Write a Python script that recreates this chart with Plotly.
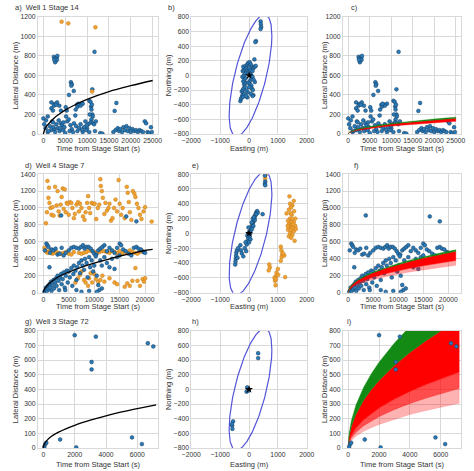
import numpy as np
import plotly.graph_objects as go
from plotly.subplots import make_subplots

# ---------------- data ----------------
# Panel a / c : Well 1 Stage 14  (time s, lateral distance m)
a_blue = [(2400,790),(2600,770),(2800,750),(3000,780),(3200,800),(2700,735),(3100,760),(2500,760),
          (11700,842),(6300,530),(6500,510),(6400,495),(6950,441),(5850,400),(11200,458),
          (16700,318),(16300,237),
          (1830,324),(1830,264),(2190,240),(2560,307),(3140,324),(3650,290),(4020,240),(2400,290),(2900,300),
          (5120,274),(5340,240),
          (7700,300),(8300,300),(9000,310),(7800,280),(8500,290),(8000,310),(7400,250),
          (10500,340),(10800,330),(10900,280),(11000,250),(11200,200),(11300,180),(11000,150),(10800,120),
          (11400,110),(11600,100),(12000,130),(10300,100),(10000,60),(9800,40),(10500,20),(11800,30),(10600,200),(11100,300),
          (0,160),(200,100),(500,60),(1000,20),(1500,80),(1800,40),(2000,130),(2200,120),(2500,50),(2700,20),
          (3000,100),(3300,60),(3500,140),(3700,30),(4000,110),(4300,90),(4500,40),(4800,70),(5000,10),
          (5200,180),(5500,130),(5800,150),(6200,90),(6500,50),(6800,20),(7000,110),(7300,190),(7500,80),
          (7800,30),(8200,60),(8500,100),(9000,20),(9300,70),(9600,130),(13000,10),(13500,5),
          (1200,30),(2300,70),(3800,60),(4600,120),(6000,30),(8800,45),(9900,90),(1000,180),(600,140),
          (16000,20),(16500,40),(17000,60),(17300,30),(17600,50),(18000,20),(18300,70),(18700,40),(19000,80),
          (19300,30),(19700,60),(20000,20),(20400,50),(20800,30),(21200,40),(21600,20),(22000,40),(22400,30),
          (22800,20),(23200,130),(23500,110),(23800,20),(24200,10),(24600,70),(24800,20)]
a_orange = [(4170,1150),(5700,1133),(11900,1093),(11150,435)]
a_curve_t = [0, 300, 700, 1500, 2500, 4000, 5000, 7500, 10000, 15000, 20000, 25000]
a_curve_r = [0, 45, 80, 118, 165, 215, 245, 305, 355, 435, 495, 548]

c_band_t = [0, 100, 400, 1000, 2000, 3500, 5000, 7500, 10000, 12500, 15000, 17500, 20000, 22500, 25000]
c_green_top = [0, 11, 22, 34, 49, 64, 77, 94, 109, 122, 133, 144, 154, 163, 172]
c_red_top = [0, 10, 20, 32, 46, 60, 72, 88, 102, 114, 125, 135, 144, 153, 161]
c_red_low = [0, 8, 16, 26, 37, 49, 58, 71, 82, 92, 100, 108, 116, 123, 130]

# Panel b : map view (easting, northing)
b_blue = [(400,737),(410,700),(420,660),(400,634),(240,469),(217,455),(185,219),
          (-300,-350),(-280,-320),(-250,-300),(-230,-270),(-200,-290),(-180,-250),(-250,-220),(-220,-200),
          (-190,-180),(-150,-150),(-170,-120),(-130,-100),(-200,-80),(-160,-50),(-120,-40),(-230,-20),
          (-180,0),(-140,20),(-100,40),(-220,60),(-180,80),(-150,100),(-200,120),(-120,130),(-60,150),
          (-30,170),(20,180),(60,150),(100,120),(150,100),(200,120),(230,130),(-40,60),(-10,40),(40,20),
          (80,0),(120,-20),(60,-50),(20,-80),(-20,-100),(30,-120),(80,-140),(100,-180),(130,-200),(150,-270),
          (120,-280),(60,-250),(-50,-230),(-90,-200),(0,-160),(-60,-300),(-100,-280),(200,-90),(160,-60),
          (-80,100),(0,100),(50,70),(120,60)]

# Panel d / f : Well 4 Stage 7
d_orange = [(500,820),(700,950),(800,1320),(1000,1120),(1100,1240),(1200,1060),(1400,1000),(1600,920),
            (1800,1010),(2000,910),(2300,1250),(2600,1030),(2800,1200),(3000,960),(3200,910),(3400,1040),
            (3600,1130),(3800,1230),(4000,990),(4200,1220),(4400,950),(4600,1060),(4800,1050),(5000,920),
            (5200,1070),(5500,1060),(5700,1000),(6000,880),(6200,930),(6500,1040),(6800,1070),(7000,960),
            (7200,1050),(7500,1000),(7800,900),(8100,860),(8300,950),(8600,1060),(8800,1140),(9000,1000),
            (9200,940),(9500,1060),(9800,1050),(10100,1050),(10400,870),(10700,1000),(11000,1040),(11200,1340),
            (11300,1260),(11500,1200),(11700,1120),(12000,930),(12200,1060),(12500,970),(12800,1000),
            (13000,1050),(13300,850),(13600,880),(13900,1000),(14200,1100),(14500,960),(14800,1330),
            (15000,1050),(15300,920),(15600,1000),(16000,880),(16400,1250),(16600,1180),(16800,1070),
            (17000,950),(17300,860),(17600,1200),(17900,1170),(18100,1130),(18400,1050),(18700,1000),
            (19000,920),(19300,870),(19700,960),(20000,1010),(21300,840),
            (200,530),(400,500),(600,480),(900,470),(1200,490),(1500,480),(1800,460),(2100,470),(2500,480),
            (3000,470),(3500,460),(4000,470),(4500,480),(5000,460),(5500,450),(6000,480),(7000,470),(7500,460),
            (8000,470),(8500,480),(9000,500),(9500,490),(10000,480),(10500,470),(11000,480),(11500,490),
            (12000,490),(12500,480),(13000,470),(13500,490),(14000,480),(14500,470),(15000,490),(15500,460),
            (16000,480),(16500,470),(17000,500),(17500,480),(18000,470),(18500,460),(19000,480),(19500,490),
            (6300,120),(6800,170),(7200,210),(7500,250),(8000,150),(8300,120),(8800,80),(9000,170),(9300,230),
            (9600,120),(10000,220),(10300,160),(10800,130),(11200,150),(11600,200),(12000,130),(13000,170),
            (14000,120),(14500,100),(16000,70),(16500,110),(17000,80),(17500,140),(18100,290),(18500,140),
            (19000,80),(19500,160),(19800,130),(20000,170)]
d_blue = [(3500,912),(16300,900),(18300,842),
          (300,500),(600,580),(800,560),(1000,540),(1300,470),(1600,510),(2000,500),(2400,520),(2800,450),
          (3200,460),(3600,530),(4000,440),(4400,470),(5000,500),(5500,530),(6000,540),(6500,530),(7000,520),
          (7400,540),(7800,560),(8100,520),(8500,540),(8900,540),(9300,520),(9700,490),(10000,460),
          (10400,450),(10800,500),(11200,520),(11600,540),(12000,560),(12500,490),(13000,530),(13500,500),
          (14000,470),(14500,530),(15000,580),(15300,560),(15700,510),(16200,490),(16800,460),(17300,440),
          (17800,530),(18300,540),(18700,520),(19200,510),(19700,480),(20000,470),
          (200,10),(400,30),(500,60),(700,20),(900,80),(1000,40),(1200,100),(1300,60),(1500,130),(1600,20),
          (1800,90),(2000,150),(2100,50),(2300,120),(2500,170),(2600,80),(2800,200),(3000,140),(3100,30),
          (3300,180),(3500,220),(3600,100),(3800,160),(4000,240),(4200,60),(4400,200),(4600,260),(4800,120),
          (5000,250),(5200,180),(5500,290),(5700,80),(5900,220),(6000,320),(6300,260),(6500,150),(6700,300),
          (7000,350),(7200,230),(7500,380),(7700,320),(8000,270),(8200,400),(8500,350),(8700,180),(9000,420),
          (9200,300),(9500,380),(9800,250),(10000,320),(10300,430),(10500,200),(10800,90),(11000,30),
          (11200,380),(11500,320),(12000,420),(12500,350),(13000,300),(13500,400),(14000,280),(14500,420),
          (15000,440),(1200,300),(4300,30),(6500,30),(9000,20),(10500,10),(11500,50),(7500,10)]
d_curve_t = [0, 200, 500, 1000, 2000, 3500, 5000, 7500, 10000, 12500, 15000, 17500, 20000, 21500]
d_curve_r = [0, 40, 65, 100, 150, 205, 243, 300, 348, 390, 430, 465, 498, 510]

f_band_t = [0, 100, 400, 1000, 2000, 3500, 5000, 7500, 10000, 12500, 15000, 17500, 20000, 21500]
f_green_top = [0, 35, 69, 109, 154, 204, 244, 299, 345, 386, 423, 456, 488, 506]
f_red_top = [0, 33, 67, 105, 149, 197, 235, 288, 333, 372, 408, 441, 471, 488]
f_red_low = [0, 26, 52, 82, 116, 154, 184, 225, 260, 291, 318, 344, 368, 381]
f_pink_low = [0, 22, 44, 70, 98, 130, 156, 191, 220, 246, 269, 291, 311, 323]

# Panel e : map view
e_blue = [(550,780),(560,700),(550,670),(560,650),(470,260),
          (-480,-420),(-470,-380),(-460,-340),(-450,-300),(-440,-260),(-420,-230),(-400,-330),(-380,-200),
          (-300,-160),(-280,-230),(-250,-270),(-200,-310),(-150,-200),(-100,-240),(-80,-150),(-50,-100),
          (-30,-60),(-10,-20),(0,20),(20,-40),(40,0),(60,40),(80,70),(100,100),(120,130),(140,150),(160,170),
          (180,200),(200,230),(220,250),(240,270),(260,290),(280,300),(300,280),(150,100),(100,60),(50,-80),
          (0,-120),(-30,-10),(90,150),(200,180),(250,260),(-20,80),(-60,-30),(130,200),(170,220),(-120,-120)]
e_orange = [(570,790),(560,740),
            (1400,500),(1550,440),(1420,400),(1500,380),(1450,350),(1380,320),(1560,300),(1300,270),(1480,250),
            (1420,200),(1500,190),(1600,200),(1350,170),(1450,150),(1550,150),(1380,120),(1480,110),(1600,100),
            (1400,80),(1500,70),(1350,50),(1450,40),(1550,30),(1420,0),(1500,-20),(1380,-40),(1580,-100),
            (1460,-60),(1520,120),(1340,100),(1620,60),(1440,270),
            (1100,-180),(1120,-230),(1150,-280),(1130,-320),(1100,-370),(1220,-300),(1180,-270),
            (700,-420),(720,-460),(680,-500),(950,-530),(920,-580),(900,-640),(920,-700),(1000,-480),
            (1250,-590),(880,-600),(930,-620),(1010,-560)]

# Panel g / i : Well 3 Stage 72
g_blue = [(60,9),(125,27),(190,36),(1070,58),(2100,4),(2000,770),(3350,760),(3080,587),(3080,536),
          (5660,72),(6290,27),(6670,715),(7020,693)]
g_curve_t = [0, 50, 200, 500, 1000, 2000, 3000, 4000, 5000, 6000, 7200]
g_curve_r = [0, 25, 49, 78, 110, 155, 190, 220, 246, 269, 295]

i_band_t = [0, 50, 200, 500, 1000, 1500, 2000, 3000, 4000, 5000, 6000, 7200]
i_green_top = [0, 93, 185, 293, 414, 507, 586, 717, 829, 926, 1015, 1111]
i_red_top = [0, 73, 146, 230, 326, 399, 461, 564, 651, 728, 798, 874]
i_red_mid = [0, 43, 86, 136, 193, 236, 273, 334, 386, 431, 473, 518]
i_red_low = [0, 34, 68, 107, 152, 186, 215, 263, 304, 339, 372, 407]
i_pink_low = [0, 25, 51, 80, 114, 139, 161, 197, 228, 255, 279, 305]

# Panel h : map view
h_blue = [(315,494),(315,427),(-554,-436),(-587,-494),(-576,-539),(-590,-470),(-65,27),(-87,-31),(-33,-18)]

# confidence ellipse (centre and second moments, m)
ell_center = (50, 0)
ell_sxx, ell_syy, ell_sxy = 740**2, 830**2, 401500

# ---------------- figure ----------------
BLUE, BLUE_EDGE = '#2a7ab8', '#163d5c'
ORANGE, ORANGE_EDGE = '#f2a231', '#c07c1c'
GRID = '#d9d9d9'
FONT = 'Liberation Sans, Arial, sans-serif'
TXT = '#333333'
MS = 3.8

fig = make_subplots(rows=3, cols=3)

col_dom = [[29/474, 154/474], [188.5/474, 308.5/474], [346/474, 469/474]]
row_dom = [[1-132/471, 1-13/471], [1-293/471, 1-172.7/471], [1-450.7/471, 1-331.7/471]]


def ax(r, c):
    i = (r-1)*3 + c
    return ('xaxis' if i == 1 else f'xaxis{i}'), ('yaxis' if i == 1 else f'yaxis{i}')


def pts(r, c, data, color, edge, size=MS, symbol='circle'):
    fig.add_trace(go.Scatter(x=[p[0] for p in data], y=[p[1] for p in data], mode='markers',
                             marker=dict(color=color, size=size, symbol=symbol,
                                         line=dict(color=edge, width=0.5)),
                             hoverinfo='skip'), row=r, col=c)


def curve(r, c, t, y, color='black', width=1.3):
    fig.add_trace(go.Scatter(x=t, y=y, mode='lines', line=dict(color=color, width=width, shape='spline'),
                             hoverinfo='skip'), row=r, col=c)


def band(r, c, t, lo, hi, color):
    xs = list(t) + list(t)[::-1]
    ys = list(hi) + list(lo)[::-1]
    fig.add_trace(go.Scatter(x=xs, y=ys, mode='lines', line=dict(width=0.4, color=color),
                             fill='toself', fillcolor=color, hoverinfo='skip'), row=r, col=c)


def ellipse(r, c):
    M = np.array([[ell_sxx, ell_sxy], [ell_sxy, ell_syy]], dtype=float)
    L = np.linalg.cholesky(M)
    th = np.linspace(0, 2*np.pi, 241)
    P = L @ np.vstack([np.cos(th), np.sin(th)])
    fig.add_trace(go.Scatter(x=P[0]+ell_center[0], y=P[1]+ell_center[1], mode='lines',
                             line=dict(color='#5454d8', width=1.2), hoverinfo='skip'), row=r, col=c)


def star(r, c):
    fig.add_trace(go.Scatter(x=[0], y=[0], mode='markers',
                             marker=dict(symbol='star', size=6, color='black'), hoverinfo='skip'),
                  row=r, col=c)


# a
pts(1, 1, a_blue, BLUE, BLUE_EDGE)
pts(1, 1, a_orange, ORANGE, ORANGE_EDGE)
curve(1, 1, a_curve_t, a_curve_r)
# b
ellipse(1, 2)
pts(1, 2, b_blue, BLUE, BLUE_EDGE)
star(1, 2)
# c
pts(1, 3, a_blue, BLUE, BLUE_EDGE)
band(1, 3, c_band_t, c_red_low, c_red_top, '#ff0000')
band(1, 3, c_band_t, c_red_top, c_green_top, '#138a13')
# d
pts(2, 1, d_orange, ORANGE, ORANGE_EDGE)
pts(2, 1, d_blue, BLUE, BLUE_EDGE)
curve(2, 1, d_curve_t, d_curve_r)
# e
ellipse(2, 2)
pts(2, 2, e_orange, ORANGE, ORANGE_EDGE)
pts(2, 2, e_blue, BLUE, BLUE_EDGE)
star(2, 2)
# f
pts(2, 3, d_blue, BLUE, BLUE_EDGE)
band(2, 3, f_band_t, f_pink_low, f_red_low, 'rgba(255,0,0,0.35)')
band(2, 3, f_band_t, f_red_low, f_red_top, '#ff0000')
band(2, 3, f_band_t, f_red_top, f_green_top, '#138a13')
# g
pts(3, 1, g_blue, BLUE, BLUE_EDGE)
curve(3, 1, g_curve_t, g_curve_r)
# h
ellipse(3, 2)
pts(3, 2, h_blue, BLUE, BLUE_EDGE)
star(3, 2)
# i
band(3, 3, i_band_t, i_pink_low, i_red_low, 'rgba(255,0,0,0.3)')
band(3, 3, i_band_t, i_red_low, i_red_mid, 'rgba(255,0,0,0.7)')
band(3, 3, i_band_t, i_red_mid, i_red_top, '#ff0000')
band(3, 3, i_band_t, i_red_top, i_green_top, '#138a13')
pts(3, 3, g_blue, BLUE, BLUE_EDGE)

# axes
xr = {1: ([-1250, 26250], 5000), 2: ([-1075, 22575], 5000), 3: ([-350, 7330], 2000)}
yr = {1: ([0, 1200], 200), 2: ([0, 1400], 200), 3: ([0, 800], 100)}
for r in range(1, 4):
    for c in range(1, 4):
        xa, ya = ax(r, c)
        common = dict(showgrid=True, gridcolor=GRID, gridwidth=1, showline=True, linecolor=GRID,
                      linewidth=1, mirror=True, zeroline=False, ticks='', tickformat='d', tickangle=0,
                      tickfont=dict(size=6.8, color=TXT, family=FONT))
        if c == 2:
            xrange, xd = [-2000, 2000], 1000
            yrange, yd = [-800, 800], 200
        else:
            xrange, xd = xr[r]
            yrange, yd = yr[r]
        fig.layout[xa].update(domain=col_dom[c-1], range=xrange, dtick=xd, tick0=0, **common)
        fig.layout[ya].update(domain=row_dom[r-1], range=yrange, dtick=yd, tick0=0, **common)

ann = []
# panel labels
labels = [('a)  Well 1 Stage 14', 3, 4), ('b)', 162, 4), ('c)', 352, 4),
          ('d)  Well 4 Stage 7', 13, 164), ('e)', 187, 164), ('f)', 355, 164),
          ('g)  Well 3 Stage 72', 13, 322), ('h)', 187, 322), ('i)', 348, 322)]
for txt, px, py in labels:
    ann.append(dict(text=txt, x=px/474, y=1-py/471, xref='paper', yref='paper', xanchor='left',
                    yanchor='middle', showarrow=False, font=dict(size=7.5, color=TXT, family=FONT)))
# axis titles
xt_y = [146.5, 307, 467]
yt_x = [6, 165, 327]
for r in range(3):
    for c in range(3):
        xtitle = 'Easting (m)' if c == 1 else 'Time from Stage Start (s)'
        ytitle = 'Northing (m)' if c == 1 else 'Lateral Distance (m)'
        ann.append(dict(text=xtitle, x=sum(col_dom[c])/2, y=1-xt_y[r]/471, xref='paper', yref='paper',
                        xanchor='center', yanchor='middle', showarrow=False,
                        font=dict(size=7.5, color=TXT, family=FONT)))
        ann.append(dict(text=ytitle, x=yt_x[c]/474, y=sum(row_dom[r])/2, xref='paper', yref='paper',
                        xanchor='center', yanchor='middle', textangle=-90, showarrow=False,
                        font=dict(size=7.5, color=TXT, family=FONT)))

fig.update_layout(width=474, height=471, margin=dict(l=0, r=0, t=0, b=0), showlegend=False,
                  paper_bgcolor='white', plot_bgcolor='white', annotations=ann,
                  font=dict(family=FONT, size=7, color=TXT))

fig.write_html('out.html')
